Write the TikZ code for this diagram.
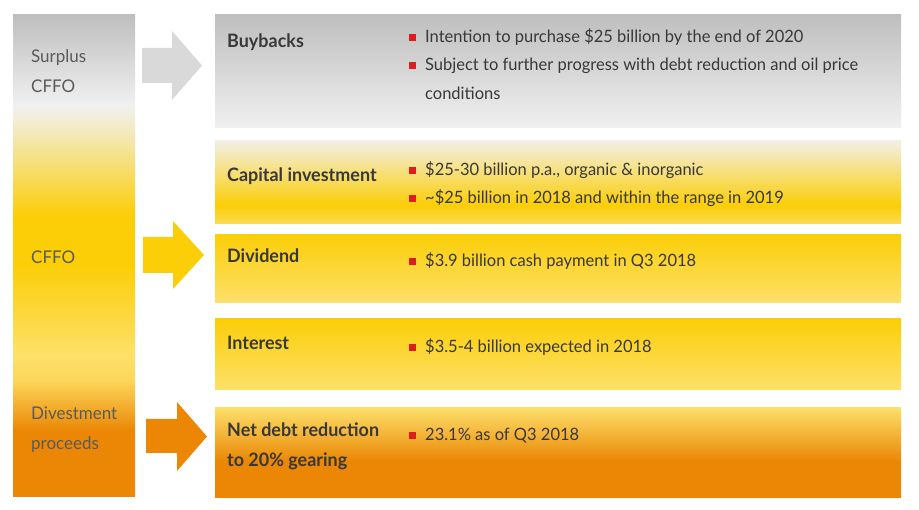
\documentclass[tikz,border=0pt]{standalone}
\usepackage{fontspec}
\setmainfont[FakeStretch=0.97]{Lato}
\definecolor{shyellow}{HTML}{FBCE07}
\definecolor{shorange}{HTML}{EB8705}
\definecolor{shred}{HTML}{DD1D21}
\definecolor{grtop}{HTML}{BEBEBE}
\definecolor{grlight}{HTML}{F0F0F0}
\definecolor{cream}{HTML}{F3EDD5}
\definecolor{ylight}{HTML}{FDE06A}
\definecolor{ylight2}{HTML}{FCD65A}
\definecolor{ycap}{HTML}{F2F0E8}
\definecolor{ycapb}{HTML}{FCDA50}
\definecolor{txtdark}{HTML}{383838}
\definecolor{txtgrey}{HTML}{5A5A5A}
\definecolor{argrey}{HTML}{D9D9D9}
\pgfdeclareverticalshading{leftbar}{100bp}{color(0bp)=(shorange); color(31.8bp)=(shorange); color(37bp)=(ylight2); color(39.6bp)=(ylight); color(49bp)=(shyellow); color(54.1bp)=(shyellow); color(64bp)=(cream); color(65.6bp)=(grlight); color(75bp)=(grtop); color(100bp)=(grtop)}
\pgfdeclareverticalshading{greybox}{100bp}{color(0bp)=(grlight); color(25bp)=(grlight); color(75bp)=(grtop); color(100bp)=(grtop)}
\pgfdeclareverticalshading{capbox}{100bp}{color(0bp)=(ycapb); color(25bp)=(ycapb); color(35.8bp)=(shyellow); color(75bp)=(ycap); color(100bp)=(ycap)}
\pgfdeclareverticalshading{yelbox}{100bp}{color(0bp)=(ylight); color(25bp)=(ylight); color(75bp)=(shyellow); color(100bp)=(shyellow)}
\pgfdeclareverticalshading{orbox}{100bp}{color(0bp)=(shorange); color(45bp)=(shorange); color(75bp)=(ylight); color(100bp)=(ylight)}
\tikzset{
  lbl/.style={anchor=base west, inner sep=0pt, font=\fontsize{18.5}{20}\selectfont\bfseries, text=txtdark},
  btxt/.style={anchor=base west, inner sep=0pt, font=\fontsize{17}{20}\selectfont, text=txtdark},
  ltxt/.style={anchor=base west, inner sep=0pt, font=\fontsize{17.5}{20}\selectfont, text=txtgrey},
  sq/.style={fill=shred, minimum size=7pt, inner sep=0pt},
  panel/.style={anchor=north west, inner sep=0pt, minimum width=686pt},
}
\begin{document}
\begin{tikzpicture}[x=1pt,y=-1pt]
\useasboundingbox[fill=white] (0,0) rectangle (919,510);
% left column
\node[anchor=north west, inner sep=0pt, minimum width=122pt, minimum height=482pt, shading=leftbar] (bar) at (13,14) {};
\node[ltxt] (t1) at (31,63) {Surplus};
\node[ltxt] (t2) at (31,93) {CFFO};
\node[ltxt] (t3) at (31,264) {CFFO};
\node[ltxt] (t4) at (31,420) {Divestment};
\node[ltxt] (t5) at (31,450) {proceeds};
% arrows
\fill[argrey] (142,48) -- (172,48) -- (172,31) -- (202,65.5) -- (172,100) -- (172,83) -- (142,83) -- cycle;
\fill[shyellow] (143,237) -- (173,237) -- (173,221) -- (204,255) -- (173,289) -- (173,273) -- (143,273) -- cycle;
\fill[shorange] (146,419) -- (177,419) -- (177,402) -- (207,436.5) -- (177,471) -- (177,453) -- (146,453) -- cycle;
% panels
\node[panel, minimum height=113pt, shading=greybox] (p1) at (215,14) {};
\node[panel, minimum height=83pt, shading=capbox] (p2) at (215,140) {};
\node[panel, minimum height=68pt, shading=yelbox] (p3) at (215,234) {};
\node[panel, minimum height=71pt, shading=yelbox] (p4) at (215,318) {};
\node[panel, minimum height=90pt, shading=orbox] (p5) at (215,407) {};
% Buybacks
\node[lbl] (l1) at (227,48) {Buybacks};
\node[sq] (b11) at (412,37.5) {};
\node[btxt] (x11) at (425,43) {Intention to purchase \$25 billion by the end of 2020};
\node[sq] (b12) at (412,65.5) {};
\node[btxt] (x12) at (425,71) {Subject to further progress with debt reduction and oil price};
\node[btxt] (x13) at (425,100) {conditions};
% Capital investment
\node[lbl] (l2) at (227,182) {Capital investment};
\node[sq] (b21) at (412,170.5) {};
\node[btxt] (x21) at (425,176) {\$25-30 billion p.a., organic \& inorganic};
\node[sq] (b22) at (412,198.5) {};
\node[btxt] (x22) at (425,204) {\textasciitilde\$25 billion in 2018 and within the range in 2019};
% Dividend
\node[lbl] (l3) at (227,263) {Dividend};
\node[sq] (b31) at (412,261.5) {};
\node[btxt] (x31) at (425,267) {\$3.9 billion cash payment in Q3 2018};
% Interest
\node[lbl] (l4) at (227,350) {Interest};
\node[sq] (b41) at (412,347.5) {};
\node[btxt] (x41) at (425,353) {\$3.5-4 billion expected in 2018};
% Net debt
\node[lbl] (l5) at (227,437) {Net debt reduction};
\node[lbl] (l6) at (227,467) {to 20\% gearing};
\node[sq] (b51) at (412,435.5) {};
\node[btxt] (x51) at (425,441) {23.1\% as of Q3 2018};
\end{tikzpicture}
\end{document}
